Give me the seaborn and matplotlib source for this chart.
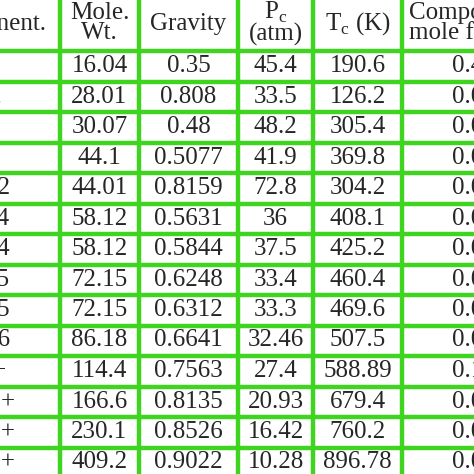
import matplotlib
matplotlib.use("Agg")
import matplotlib.pyplot as plt
import seaborn as sns

components = ["C1", "N2", "C2", "C3", "CO2", "iC4", "nC4", "iC5", "nC5", "C6", "C7+", "C11 +", "C16 +", "C30 +"]
mole_wt = ["16.04", "28.01", "30.07", "44.1", "44.01", "58.12", "58.12", "72.15", "72.15", "86.18", "114.4", "166.6", "230.1", "409.2"]
gravity = ["0.35", "0.808", "0.48", "0.5077", "0.8159", "0.5631", "0.5844", "0.6248", "0.6312", "0.6641", "0.7563", "0.8135", "0.8526", "0.9022"]
pc = ["45.4", "33.5", "48.2", "41.9", "72.8", "36", "37.5", "33.4", "33.3", "32.46", "27.4", "20.93", "16.42", "10.28"]
tc = ["190.6", "126.2", "305.4", "369.8", "304.2", "408.1", "425.2", "460.4", "469.6", "507.5", "588.89", "679.4", "760.2", "896.78"]
frac = ["0.4", "0.0", "0.0", "0.0", "0.0", "0.0", "0.0", "0.0", "0.0", "0.0", "0.1", "0.0", "0.0", "0.0"]

sns.set_style("white")
plt.rcParams['font.family'] = ['Liberation Serif', 'DejaVu Serif']

fig = plt.figure(figsize=(4.74, 4.74), dpi=100)
ax = fig.add_axes([0, 0, 1, 1])
ax.set_xlim(0, 474)
ax.set_ylim(474, 0)
ax.axis("off")

green = "#3fd420"
vlines = [60, 139, 238, 313, 402]
hlines = [51 + 30.5 * i for i in range(15)]
for x in vlines:
    ax.plot([x, x], [0, 474], color=green, lw=3.2, solid_capstyle="butt")
for y in hlines:
    ax.plot([0, 474], [y, y], color=green, lw=3.2, solid_capstyle="butt")

fs = 18
centers = [99.5, 188.5, 275.5, 357.5]
ax.text(46, 24, "Component.", ha="right", va="center", fontsize=fs)
ax.text(centers[0], 23, "Mole.\nWt.", ha="center", va="center", fontsize=fs, linespacing=0.9)
ax.text(centers[1], 24, "Gravity", ha="center", va="center", fontsize=fs)
ax.text(centers[2], 23, "P$_\\mathregular{c}$\n(atm)", ha="center", va="center", fontsize=fs, linespacing=0.9)
ax.text(centers[3], 24, "T$_\\mathregular{c}$ (K)", ha="center", va="center", fontsize=fs)
ax.text(409, 23, "Composition\nmole fraction", ha="left", va="center", fontsize=fs, linespacing=0.9)

right_edges = [-4, 2, 1, -4, 10, 10, 10, 10, 10, 10, 6, 15, 15, 15]
for i in range(14):
    y = 66 + 30.5 * i
    ax.text(right_edges[i], y, components[i], ha="right", va="center", fontsize=fs)
    for c, col in zip(centers, [mole_wt, gravity, pc, tc]):
        ax.text(c, y, col[i], ha="center", va="center", fontsize=fs)
    ax.text(452, y, frac[i] + "5", ha="left", va="center", fontsize=fs)

fig.savefig("out.png", dpi=100)
